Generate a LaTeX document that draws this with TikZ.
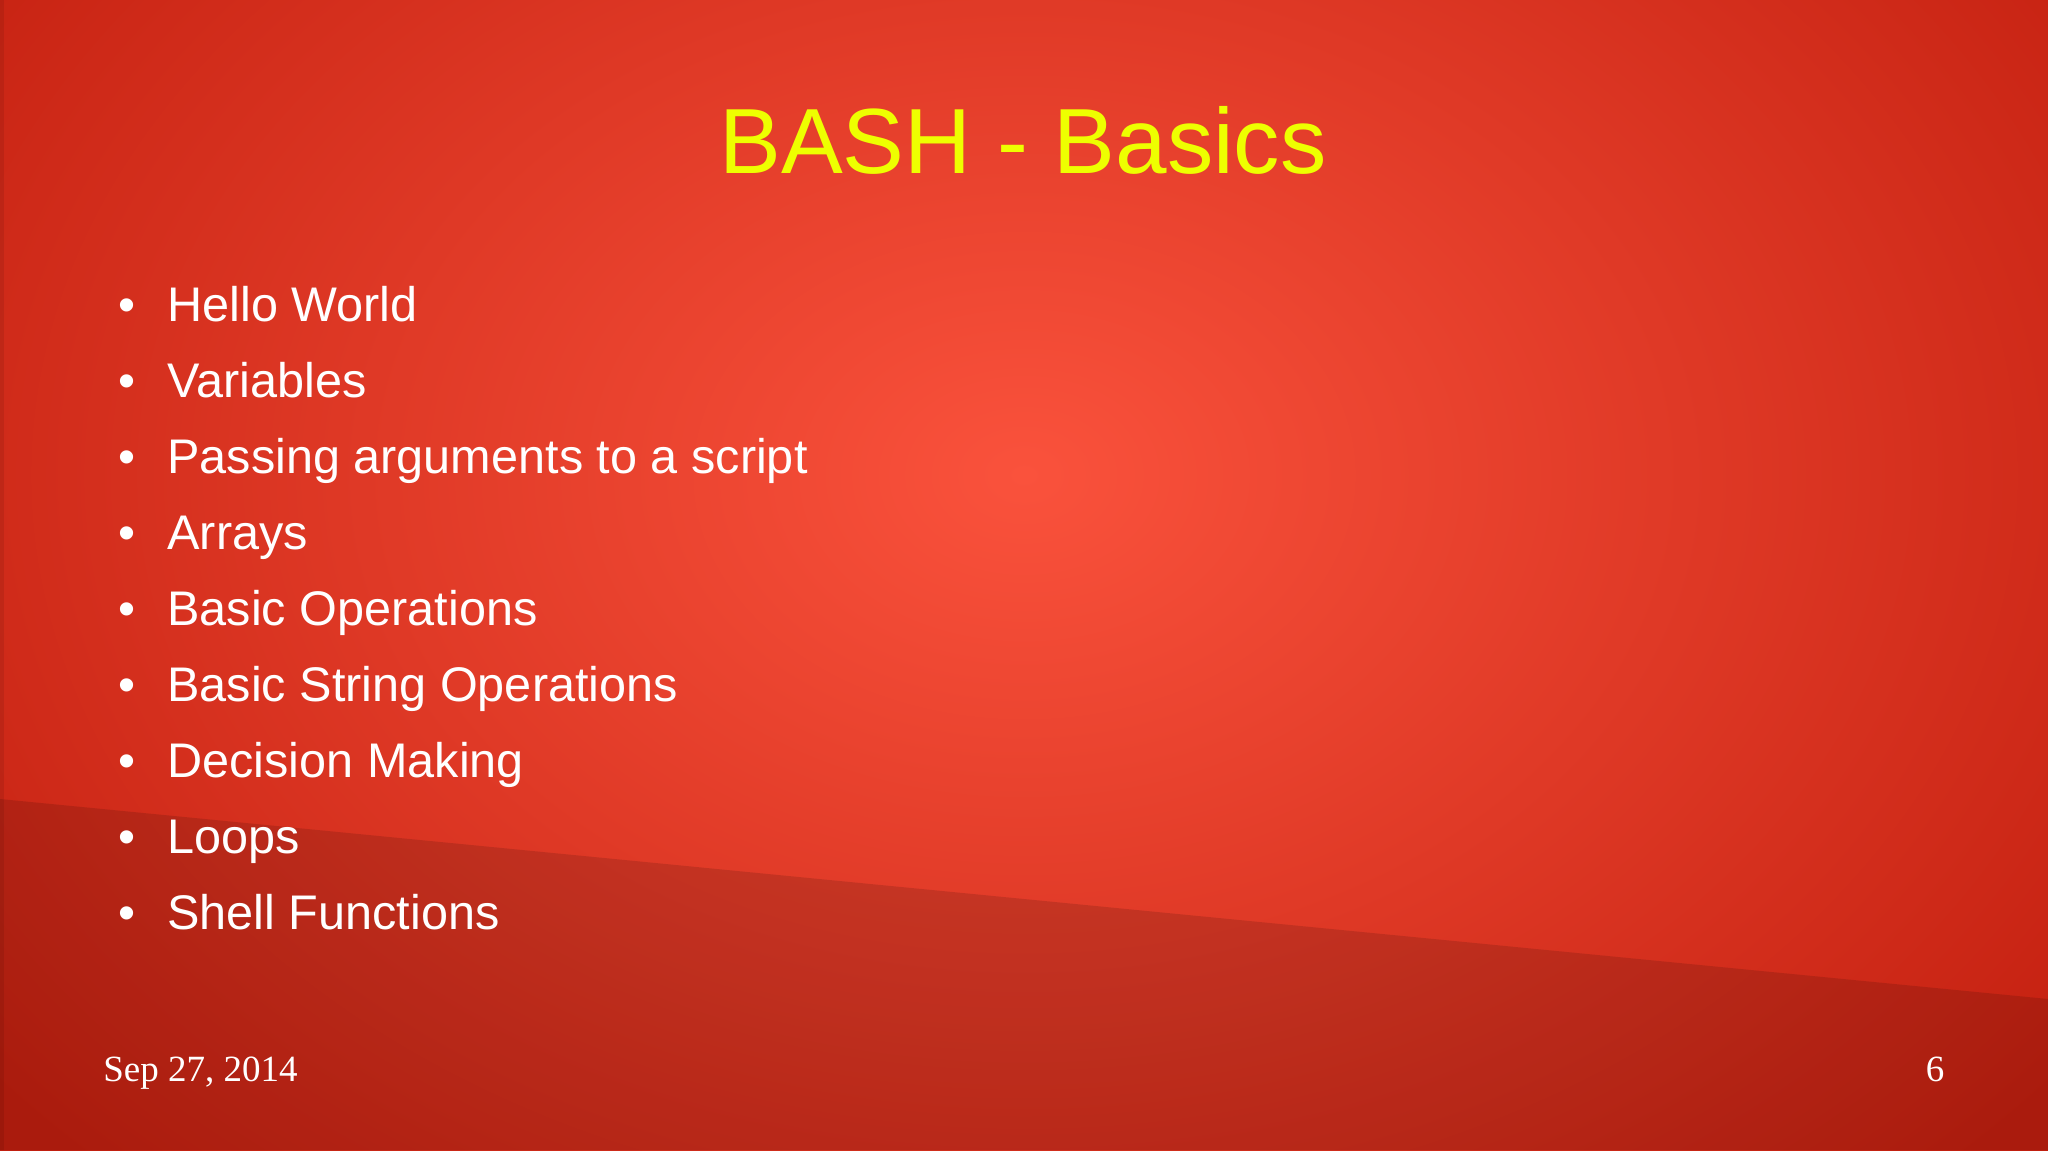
\documentclass[tikz,border=0pt]{standalone}
\usepackage{fontspec}
\setmainfont{Liberation Sans}
\newfontfamily\seriffont{Liberation Serif}
\begin{document}
\begin{tikzpicture}[x=0.5pt,y=-0.5pt,
  item/.style={anchor=base west,text=white,font=\fontsize{24.3}{28}\selectfont,inner sep=0},
  dot/.style={anchor=base,text=white,font=\fontsize{24.3}{28}\selectfont,inner sep=0},
  foot/.style={text=white,font=\seriffont\fontsize{18.5}{22}\selectfont,inner sep=0}]
\useasboundingbox (0,0) rectangle (2048,1150);
\fill[red!75!black] (0,0) rectangle (2048,1150);
\shade[inner color={rgb,255:red,250;green,82;blue,60},outer color={rgb,255:red,196;green,32;blue,16}]
  (-300,-500) rectangle (2348,1450);
\fill[black,opacity=0.13] (0,799) -- (2048,999) -- (2048,1150) -- (0,1150) -- cycle;
\fill[black,opacity=0.08] (0,0) -- (4,0) -- (4,1150) -- (0,1150) -- cycle;
\node[text={rgb,255:red,238;green,255;blue,0},font=\fontsize{46.3}{52}\selectfont,inner sep=0,anchor=base] (title) at (1023,174) {BASH - Basics};
\foreach \t [count=\i] in {Hello World,Variables,Passing arguments to a script,Arrays,Basic Operations,Basic String Operations,Decision Making,Loops,Shell Functions}{
  \node[dot] (b\i) at (127,{321+76.1*(\i-1)}) {•};
  \node[item] (t\i) at (167,{321+76.1*(\i-1)}) {\t};
}
\node[foot,anchor=base west] (date) at (103,1081) {Sep 27, 2014};
\node[foot,anchor=base] (page) at (1935,1081) {6};
\end{tikzpicture}
\end{document}
